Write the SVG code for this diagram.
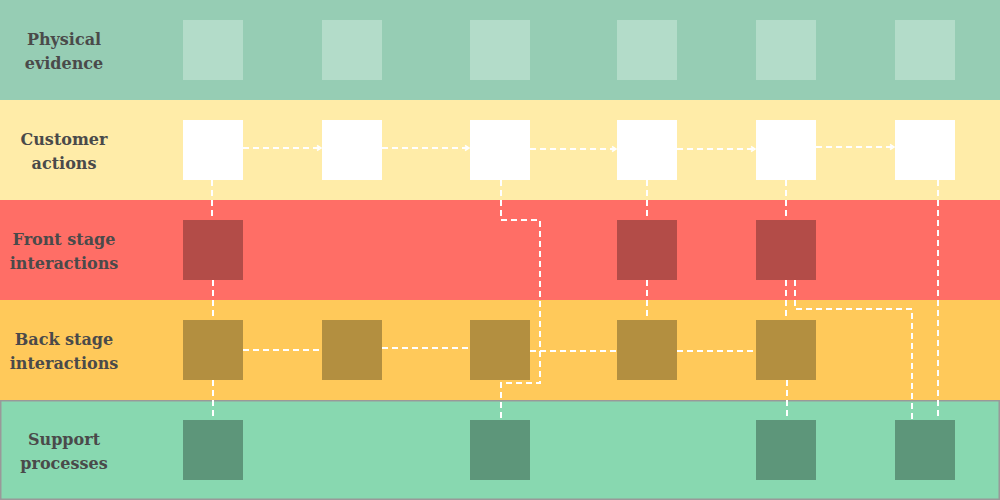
<svg xmlns="http://www.w3.org/2000/svg" width="1000" height="500" viewBox="0 0 1000 500">
<style>
.lbl{font-family:"DejaVu Serif","Liberation Serif",serif;font-weight:bold;font-size:16px;fill:#4a4a4a;text-anchor:middle}
.pe{fill:#b3dcc9}.ca{fill:#ffffff}.fs{fill:#b34c48}.bs{fill:#b38f40}.sp{fill:#5d967a}
.c{fill:none;stroke:#ffffff;stroke-width:2;stroke-dasharray:6 4}
</style>
<defs>
<marker id="ah" markerWidth="8" markerHeight="8" refX="6" refY="4" orient="auto" markerUnits="userSpaceOnUse">
<polyline points="2,1.5 6,4 2,6.5" fill="none" stroke="#ffffff" stroke-width="1.5"/>
</marker>
</defs>
<g id="lanes">
<rect x="0" y="0" width="1000" height="100" fill="#96cdb4"/>
<rect x="0" y="100" width="1000" height="100" fill="#ffeca8"/>
<rect x="0" y="200" width="1000" height="100" fill="#ff6e66"/>
<rect x="0" y="300" width="1000" height="100" fill="#ffc95a"/>
<rect x="0.75" y="400.75" width="998.5" height="98.5" fill="#88d8b0" stroke="#999999" stroke-width="1.5"/>
</g>
<g id="labels">
<text class="lbl" x="64" y="45">Physical</text><text class="lbl" x="64" y="69">evidence</text>
<text class="lbl" x="64" y="145">Customer</text><text class="lbl" x="64" y="169">actions</text>
<text class="lbl" x="64" y="245">Front stage</text><text class="lbl" x="64" y="269">interactions</text>
<text class="lbl" x="64" y="345">Back stage</text><text class="lbl" x="64" y="369">interactions</text>
<text class="lbl" x="64" y="445">Support</text><text class="lbl" x="64" y="469">processes</text>
</g>
<g id="connectors">
<line class="c" x1="243" y1="148" x2="321" y2="148" marker-end="url(#ah)"/>
<line class="c" x1="382" y1="148" x2="469" y2="148" marker-end="url(#ah)"/>
<line class="c" x1="530" y1="149" x2="616" y2="149" marker-end="url(#ah)"/>
<line class="c" x1="677" y1="149" x2="755" y2="149" marker-end="url(#ah)"/>
<line class="c" x1="816" y1="147" x2="894" y2="147" marker-end="url(#ah)"/>
<line class="c" x1="212" y1="180" x2="212" y2="220"/>
<line class="c" x1="213" y1="280" x2="213" y2="320"/>
<line class="c" x1="213" y1="380" x2="213" y2="420"/>
<polyline class="c" points="501,180 501,220 540,220 540,383 501,383 501,420"/>
<line class="c" x1="647" y1="180" x2="647" y2="220"/>
<line class="c" x1="647" y1="280" x2="647" y2="320"/>
<line class="c" x1="786" y1="180" x2="786" y2="220"/>
<line class="c" x1="786" y1="280" x2="786" y2="320"/>
<line class="c" x1="787" y1="380" x2="787" y2="420"/>
<polyline class="c" points="795,280 795,309 912,309 912,420"/>
<line class="c" x1="938" y1="180" x2="938" y2="420"/>
<line class="c" x1="243" y1="350" x2="322" y2="350"/>
<line class="c" x1="382" y1="348" x2="470" y2="348"/>
<line class="c" x1="530" y1="351" x2="617" y2="351"/>
<line class="c" x1="677" y1="351" x2="756" y2="351"/>
</g>
<g id="pe1"><rect class="pe" x="183" y="20" width="60" height="60"/></g>
<g id="pe2"><rect class="pe" x="322" y="20" width="60" height="60"/></g>
<g id="pe3"><rect class="pe" x="470" y="20" width="60" height="60"/></g>
<g id="pe4"><rect class="pe" x="617" y="20" width="60" height="60"/></g>
<g id="pe5"><rect class="pe" x="756" y="20" width="60" height="60"/></g>
<g id="pe6"><rect class="pe" x="895" y="20" width="60" height="60"/></g>
<g id="ca1"><rect class="ca" x="183" y="120" width="60" height="60"/></g>
<g id="ca2"><rect class="ca" x="322" y="120" width="60" height="60"/></g>
<g id="ca3"><rect class="ca" x="470" y="120" width="60" height="60"/></g>
<g id="ca4"><rect class="ca" x="617" y="120" width="60" height="60"/></g>
<g id="ca5"><rect class="ca" x="756" y="120" width="60" height="60"/></g>
<g id="ca6"><rect class="ca" x="895" y="120" width="60" height="60"/></g>
<g id="fs1"><rect class="fs" x="183" y="220" width="60" height="60"/></g>
<g id="fs4"><rect class="fs" x="617" y="220" width="60" height="60"/></g>
<g id="fs5"><rect class="fs" x="756" y="220" width="60" height="60"/></g>
<g id="bs1"><rect class="bs" x="183" y="320" width="60" height="60"/></g>
<g id="bs2"><rect class="bs" x="322" y="320" width="60" height="60"/></g>
<g id="bs3"><rect class="bs" x="470" y="320" width="60" height="60"/></g>
<g id="bs4"><rect class="bs" x="617" y="320" width="60" height="60"/></g>
<g id="bs5"><rect class="bs" x="756" y="320" width="60" height="60"/></g>
<g id="sp1"><rect class="sp" x="183" y="420" width="60" height="60"/></g>
<g id="sp3"><rect class="sp" x="470" y="420" width="60" height="60"/></g>
<g id="sp5"><rect class="sp" x="756" y="420" width="60" height="60"/></g>
<g id="sp6"><rect class="sp" x="895" y="420" width="60" height="60"/></g>
</svg>
